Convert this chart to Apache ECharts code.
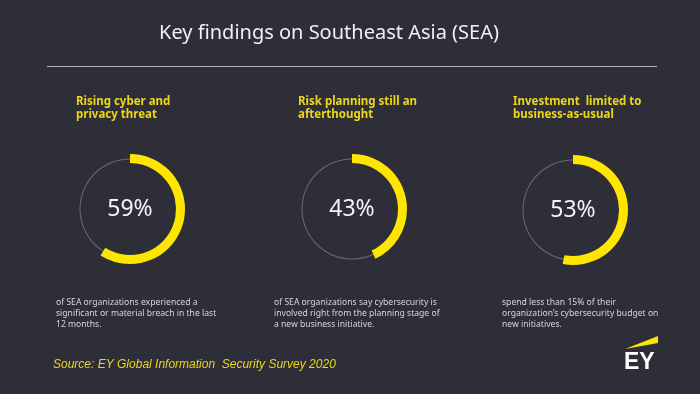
<!DOCTYPE html>
<html>
<head>
<meta charset="utf-8">
<script src="https://cdn.jsdelivr.net/npm/echarts@6/dist/echarts.min.js"></script>
<style>
  html, body { margin: 0; padding: 0; background: #2e2e38; }
  #chart { width: 700px; height: 394px; }
</style>
</head>
<body>
<div id="chart"></div>
<script>
// values
var percents = [59, 43, 53];
var headings = [
    "Rising cyber and\nprivacy threat",
    "Risk planning still an\nafterthought",
    "Investment  limited to\nbusiness-as-usual"
];
var notes = [
    "of SEA organizations experienced a\nsignificant or material breach in the last\n12 months.",
    "of SEA organizations say cybersecurity is\ninvolved right from the planning stage of\na new business initiative.",
    "spend less than 15% of their\norganization\u2019s cybersecurity budget on\nnew initiatives."
];
var titleText = "Key findings on Southeast Asia (SEA)";
var sourceText = "Source: EY Global Information  Security Survey 2020";

// layout
var ringCenters = [[130, 209], [352, 209], [573, 210]];
var headingX = [76, 298, 513];
var noteX = [56, 274, 502];

var yellow = "#ffe600";
var headYellow = "#ecd61c";

var series = [];
var graphics = [];

percents.forEach(function (p, i) {
    // thin grey full circle
    series.push({
        type: "pie",
        center: ringCenters[i],
        radius: [49.5, 50.5],
        silent: true,
        label: { show: false },
        labelLine: { show: false },
        itemStyle: { color: "#6c6c76" },
        data: [{ value: 100 }]
    });
    // yellow arc
    series.push({
        type: "pie",
        center: ringCenters[i],
        radius: [46, 55],
        startAngle: 90,
        clockwise: true,
        silent: true,
        labelLine: { show: false },
        data: [
            {
                value: p,
                itemStyle: { color: yellow },
                label: {
                    show: true,
                    position: "center",
                    formatter: "{c}%",
                    color: "#f4f4f4",
                    fontSize: 23,
                    fontFamily: "Noto Sans",
                    fontWeight: "normal"
                }
            },
            {
                value: 100 - p,
                itemStyle: { color: "transparent" },
                label: { show: false }
            }
        ]
    });

    graphics.push({
        type: "text",
        x: headingX[i],
        y: 95,
        style: {
            text: headings[i],
            fill: headYellow,
            fontSize: 11.5,
            fontWeight: "bold",
            fontFamily: "Noto Sans",
            lineHeight: 13
        }
    });
    graphics.push({
        type: "text",
        x: noteX[i],
        y: 297,
        style: {
            text: notes[i],
            fill: "#d6d6d8",
            fontSize: 8.6,
            fontFamily: "Noto Sans",
            lineHeight: 11
        }
    });
});

graphics.push({
    type: "text",
    x: 329,
    y: 33,
    style: {
        text: titleText,
        fill: "#f0f0f0",
        fontSize: 20,
        fontFamily: "Noto Sans",
        textAlign: "center",
        textVerticalAlign: "middle"
    }
});
graphics.push({
    type: "line",
    shape: { x1: 47, y1: 66.5, x2: 657, y2: 66.5 },
    style: { stroke: "#b4b4b8", lineWidth: 1 }
});
graphics.push({
    type: "text",
    x: 53,
    y: 365,
    style: {
        text: sourceText,
        fill: headYellow,
        fontSize: 12,
        fontStyle: "italic",
        fontFamily: "Liberation Sans",
        textVerticalAlign: "middle"
    }
});
// EY logo
graphics.push({
    type: "polygon",
    shape: { points: [[625, 349], [658, 336], [658, 343]] },
    style: { fill: yellow }
});
graphics.push({
    type: "text",
    x: 624,
    y: 363,
    style: {
        text: "EY",
        fill: "#ffffff",
        fontSize: 23,
        fontWeight: "bold",
        fontFamily: "Liberation Sans",
        textVerticalAlign: "middle"
    }
});

var chart = echarts.init(document.getElementById("chart"));
chart.setOption({
    backgroundColor: "#2e2e38",
    animation: false,
    series: series,
    graphic: graphics
});
</script>
</body>
</html>
